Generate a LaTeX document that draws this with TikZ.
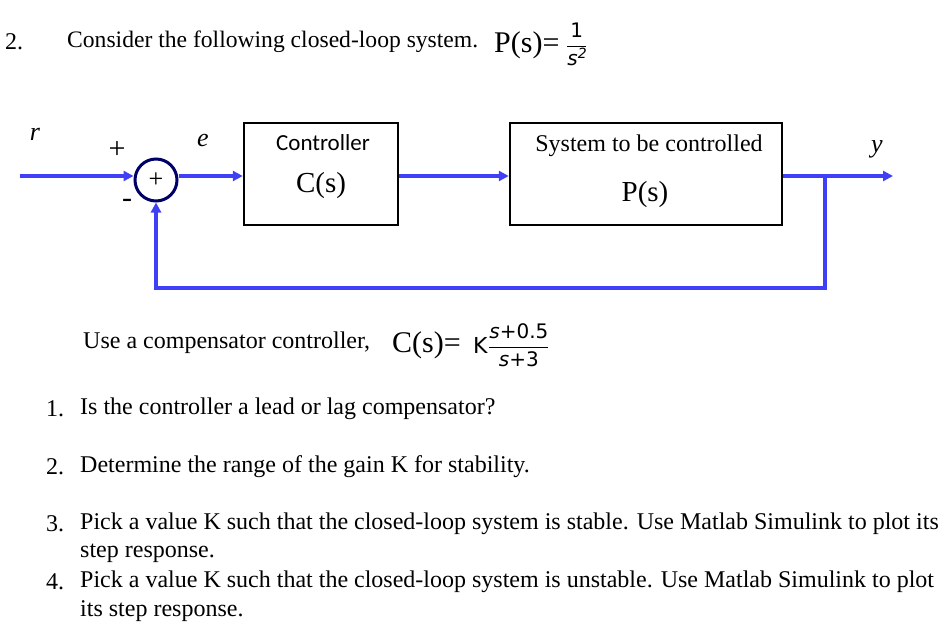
\documentclass[tikz,border=0pt]{standalone}
\usepackage{fontspec}
\setmainfont{Liberation Serif}
\newfontfamily\sfa{Carlito}
\newfontfamily\mth{DejaVu Sans}
\usetikzlibrary{arrows.meta}
\definecolor{lb}{HTML}{3F3FF5}
\tikzset{x=1pt,y=-1pt,
 sig/.style={draw=lb,line width=3.5pt,-{Triangle[length=10pt,width=10pt]}},
 blk/.style={draw,line width=2.5pt,minimum width=154pt,minimum height=102pt},
 txt/.style={font=\fontsize{24}{28}\selectfont,inner sep=0pt},
 lst/.style={font=\fontsize{24}{28}\selectfont,inner sep=0pt,anchor=west}}
\begin{document}
\begin{tikzpicture}
\useasboundingbox (0,0) rectangle (943,626);
\node[lst] (n2) at (5,42) {2.};
\node[lst,font=\fontsize{23.6}{28}\selectfont] (t1) at (67,42) {Consider the following closed-loop system.};
\node[lst,font=\fontsize{30}{32}\selectfont] (ps) at (494,45) {P(s)=};
\node[inner sep=0pt,anchor=west,font=\mth\fontsize{20}{22}\selectfont] (psf) at (566,44) {$\displaystyle\frac{\mbox{\mth 1}}{\mbox{\mth\itshape s\rlap{\raisebox{7pt}{\fontsize{14}{14}\selectfont 2}}\hspace{8pt}}}$};
% blocks
\node[blk] (c) at (321,174) {};
\node[blk,minimum width=272pt] (p) at (646,174) {};
\node[inner sep=0pt,font=\sfa\fontsize{23}{26}\selectfont] (cl) at (323,143) {Controller};
\node[txt,font=\fontsize{29}{32}\selectfont] (cs) at (321,186) {C(s)};
\node[txt] (pl) at (649,146) {System to be controlled};
\node[txt,font=\fontsize{29}{32}\selectfont] (pp) at (645,195) {P(s)};
\node[circle,draw=black!60!blue,line width=3pt,minimum size=42pt,inner sep=0pt,font=\fontsize{26}{26}\selectfont] (sum) at (156,180) {+};
\coordinate (in) at (20,176);
\coordinate (out) at (893,176);
\coordinate (br) at (825,176);
\coordinate (b1) at (825,288);
\coordinate (b2) at (156,288);
\draw[sig] (in) -- (sum.west|-in);
\draw[sig] (sum.east|-in) -- (c.west|-in);
\draw[sig] (c.east|-in) -- (p.west|-in);
\draw[sig] (p.east|-in) -- (out);
\draw[sig] (br) -- (b1) -- (b2) -- (sum.south);
\node[txt,font=\itshape\fontsize{26}{28}\selectfont] (r) at (35,134) {r};
\node[txt,font=\fontsize{30}{30}\selectfont] (pl1) at (117,150) {+};
\node[txt,font=\fontsize{30}{30}\selectfont] (mi) at (127,203) {-};
\node[txt,font=\itshape\fontsize{26}{28}\selectfont] (e) at (203,141) {e};
\node[txt,font=\itshape\fontsize{26}{28}\selectfont] (y) at (877,149) {y};
% compensator
\node[lst] (uc) at (83,343) {Use a compensator controller,};
\node[lst,font=\fontsize{30}{32}\selectfont] (ccs) at (392,345) {C(s)=};
\node[lst,font=\mth\fontsize{22}{24}\selectfont] (k) at (473,345) {K};
\node[inner sep=0pt,anchor=west,font=\mth\fontsize{20}{22}\selectfont] (kf) at (488,345) {$\displaystyle\frac{\mbox{\mth\itshape s\upshape+0.5}}{\mbox{\mth\itshape s\upshape+3}}$};
% list
\node[lst] (l1n) at (46,409) {1.};
\node[lst] (l1) at (80,409) {Is the controller a lead or lag compensator?};
\node[lst] (l2n) at (46,467) {2.};
\node[lst] (l2) at (80,467) {Determine the range of the gain K for stability.};
\node[lst] (l3n) at (46,524) {3.};
\node[lst] (l3) at (80,524) {Pick a value K such that the closed-loop system is stable. Use Matlab Simulink to plot its};
\node[lst] (l3b) at (80,553) {step response.};
\node[lst] (l4n) at (46,582) {4.};
\node[lst] (l4) at (80,582) {Pick a value K such that the closed-loop system is unstable. Use Matlab Simulink to plot};
\node[lst] (l4b) at (80,611) {its step response.};
\end{tikzpicture}
\end{document}
